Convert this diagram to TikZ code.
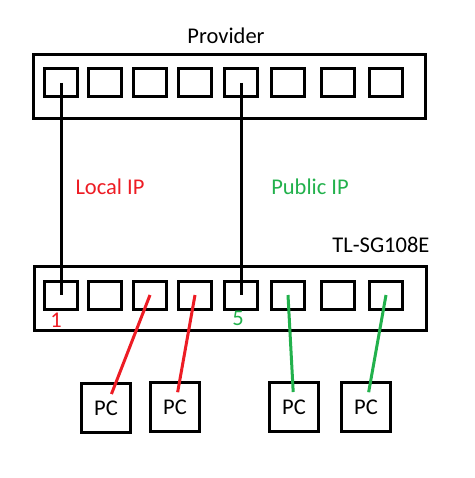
\documentclass[tikz,border=0pt]{standalone}
\usepackage{fontspec}
\setmainfont{Carlito}
\definecolor{paintred}{RGB}{237,28,36}
\definecolor{paintgreen}{RGB}{34,177,76}

\tikzset{
  switchbox/.style={draw, line width=3pt, minimum width=392pt, minimum height=64pt, inner sep=0pt},
  port/.style={draw, line width=3pt, minimum width=33pt, minimum height=28pt, inner sep=0pt},
  pcbox/.style={draw, line width=3pt, minimum size=49pt, inner sep=0pt, font=\fontsize{22.5}{27}\selectfont},
  lbl/.style={font=\fontsize{22.5}{27}\selectfont},
  cable/.style={line width=3pt},
}

\begin{document}
\begin{tikzpicture}[x=1pt, y=-1pt]
\useasboundingbox (0,0) rectangle (474,478);

  \node[lbl] (provtext) at (226,36) {Provider};
  \node[switchbox] (provider) at (229,86.5) {};
  \node[lbl, anchor=east] (swtext) at (433,245) {TL-SG108E};
  \node[switchbox] (switch) at (230,298) {};

\foreach \i/\x in {1/61,2/105,3/150,4/195,5/241,6/288,7/338,8/386} {
  \node[port] (p\i) at (\x,83) {};
  \node[port] (s\i) at (\x,295) {};
}

  \node[pcbox] (pc1) at (106,408) {PC};
  \node[pcbox] (pc2) at (175,407) {PC};
  \node[pcbox] (pc3) at (294,407) {PC};
  \node[pcbox] (pc4) at (366,407) {PC};

  \node[lbl, text=paintred] (localip) at (110,187) {Local IP};
  \node[lbl, text=paintgreen] (publicip) at (310,187) {Public IP};
  \node[lbl, text=paintred] (num1) at (56,320) {1};
  \node[lbl, text=paintgreen] (num5) at (238,318) {5};

% uplinks
\draw[cable] (p1.center) -- (p1.center |- s1.center);
\draw[cable] (p5.center) -- (p5.center |- s5.center);

% PCs
\begin{scope}[cable, shorten >=15pt]
  \draw[paintred] (s3.center) -- (pc1.center);
  \draw[paintred] (s4.center) -- (pc2.center);
  \draw[paintgreen] (s6.center) -- (pc3.center);
  \draw[paintgreen] (s8.center) -- (pc4.center);
\end{scope}

\end{tikzpicture}
\end{document}
